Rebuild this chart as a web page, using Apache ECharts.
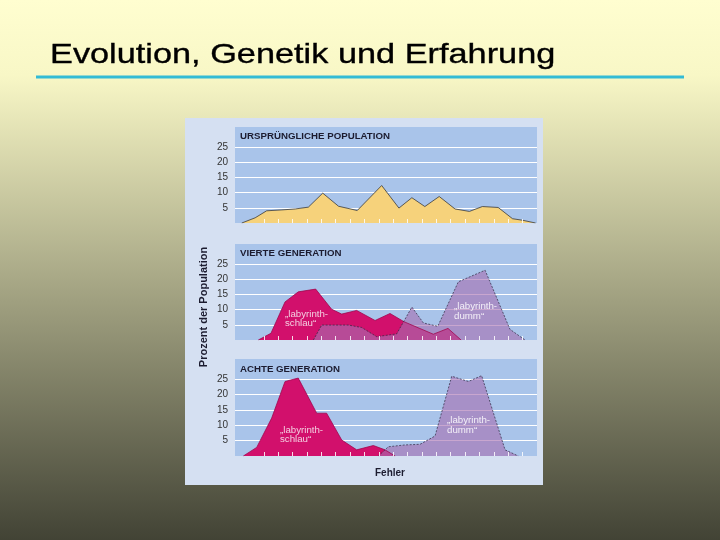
<!DOCTYPE html>
<html><head><meta charset="utf-8">
<script src="https://cdn.jsdelivr.net/npm/echarts@6/dist/echarts.min.js"></script>
<style>html,body{margin:0;padding:0;background:#fff;}#c{width:720px;height:540px;}</style>
</head><body><div id="c"></div>
<script>
const titleText = 'Evolution, Genetik und Erfahrung';
const panelTitles = ['URSPRÜNGLICHE POPULATION', 'VIERTE GENERATION', 'ACHTE GENERATION'];
const yAxisName = 'Prozent der Population';
const xAxisName = 'Fehler';
const yTickLabels = [5, 10, 15, 20, 25];
const xTickValues = [2, 3, 4, 5, 6, 7, 8, 9, 10, 11, 12, 13, 14, 15, 16, 17, 18, 19, 20];
const labelSchlau = '\u201Elabyrinth-\nschlau\u201C';
const labelDumm = '\u201Elabyrinth-\ndumm\u201C';

// [Fehler position, Prozent]
const origPop = [[0.47,0],[1.4,1.7],[2.2,4.0],[3.26,4.3],[4.19,4.6],[5.1,5.2],[6.1,9.8],[7.2,5.5],[8.5,4.1],[10.2,12.3],[11.4,4.9],[12.3,8.3],[13.2,5.4],[14.2,8.7],[15.3,4.6],[16.3,3.8],[17.2,5.4],[18.3,5.1],[19.3,1.4],[20.0,0.9],[20.9,0]];
const gen4Schlau = [[1.62,0],[2.5,2.2],[3.48,12.5],[4.4,15.8],[5.61,16.7],[6.72,10.1],[7.42,8.5],[8.46,9.7],[9.74,6.4],[10.78,8.7],[11.75,6.0],[13.79,1.9],[14.81,3.8],[15.72,0]];
const gen4Dumm = [[5.45,0],[6.03,4.9],[7.88,4.9],[8.81,4.1],[9.85,1.1],[11.24,2.0],[12.3,10.8],[13.1,5.6],[14.1,4.5],[15.53,19.1],[17.39,22.9],[19.12,3.5],[20.17,0]];
const gen8Schlau = [[0.58,0],[1.51,2.8],[2.55,12.3],[3.48,24.2],[4.4,25.3],[5.68,13.9],[6.37,13.9],[7.42,5.2],[8.46,2.0],[9.62,3.4],[10.43,2.0],[11.13,0]];
const gen8Dumm = [[9.97,0],[10.66,3.0],[11.82,3.6],[12.87,3.8],[13.91,6.5],[15.07,25.9],[16.23,24.2],[17.15,26.1],[18.78,2.0],[19.7,0]];

const FONT = "'Liberation Sans', Arial, sans-serif";
const COL_BAND = '#a9c4ea';
const COL_PANEL = '#d5e0f2';
const COL_YELLOW = '#f6d27b';
const COL_MAGENTA = '#d2106c';
const COL_LAV = 'rgb(166,112,178)';

const gridTops = [127, 244, 359];
const gridHeights = [96, 96, 97];

const grids = gridTops.map((t, i) => ({
  left: 235, width: 302, top: t, height: gridHeights[i],
  show: true, backgroundColor: COL_BAND, borderWidth: 0
}));
const xAxes = gridTops.map((t, i) => ({
  type: 'value', gridIndex: i, min: 0, max: 21, z: 10,
  axisLine: { show: false }, axisLabel: { show: false }, splitLine: { show: false },
  axisTick: { show: true, inside: true, length: 4, customValues: xTickValues,
    lineStyle: { color: 'rgba(255,255,255,0.85)', width: 1 } }
}));
const yAxes = gridTops.map((t, i) => ({
  type: 'value', gridIndex: i, min: 0, max: 31.5,
  axisLine: { show: false },
  axisTick: { show: false, customValues: yTickLabels },
  axisLabel: { customValues: yTickLabels, fontSize: 10, color: '#333', margin: 7, fontFamily: FONT },
  splitLine: { show: true, lineStyle: { color: '#ffffff', width: 1 } }
}));

function area(idx, data, color, opacity, line) {
  return {
    type: 'line', xAxisIndex: idx, yAxisIndex: idx, data: data,
    symbol: 'none', smooth: false, animation: false,
    lineStyle: line,
    areaStyle: { color: color, opacity: opacity }
  };
}
const series = [
  area(0, origPop, COL_YELLOW, 1, { color: '#3a3a3a', width: 0.8 }),
  area(1, gen4Schlau, COL_MAGENTA, 1, { color: '#a0084e', width: 0.8 }),
  area(1, gen4Dumm, COL_LAV, 0.62, { color: '#2e2840', width: 0.7, type: [2, 1.5] }),
  area(2, gen8Schlau, COL_MAGENTA, 1, { color: '#a0084e', width: 0.8 }),
  area(2, gen8Dumm, COL_LAV, 0.62, { color: '#2e2840', width: 0.7, type: [2, 1.5] })
];

function txt(x, y, s, size, weight, fill, align) {
  return { type: 'text', x: x, y: y, z: 100,
    style: { text: s, fill: fill, font: weight + ' ' + size + 'px ' + FONT,
      textAlign: align || 'left', align: align || 'left',
      textVerticalAlign: 'middle', verticalAlign: 'middle' } };
}
function ml(x, y, s, fill) {
  return { type: 'text', x: x, y: y, z: 100,
    style: { text: s, fill: fill, font: '9.7px ' + FONT, lineHeight: 9.5,
      textVerticalAlign: 'top', verticalAlign: 'top' } };
}

const graphic = [
  { type: 'rect', z: -100, shape: { x: 0, y: 0, width: 720, height: 540 },
    style: { fill: { type: 'linear', x: 0, y: 0, x2: 0, y2: 1, colorStops: [
      { offset: 0, color: '#fffed0' }, { offset: 0.14, color: '#f8f7c6' }, { offset: 1, color: '#424335' } ] } } },
  { type: 'rect', z: -90, shape: { x: 185, y: 118, width: 358, height: 367 }, style: { fill: COL_PANEL } },
  { type: 'text', x: 50, y: 55, scaleX: 1.225, z: 100,
    style: { text: titleText, fill: '#000', stroke: '#000', lineWidth: 0.35, font: '28px ' + FONT,
      textVerticalAlign: 'middle', verticalAlign: 'middle' } },
  { type: 'line', z: 100, shape: { x1: 36, y1: 77, x2: 684, y2: 77 }, style: { stroke: '#33bbd5', lineWidth: 3 } },
  txt(240, 136.5, panelTitles[0], 9.7, 'bold', '#1c1c30'),
  txt(240, 253.5, panelTitles[1], 9.7, 'bold', '#1c1c30'),
  txt(240, 369.5, panelTitles[2], 9.7, 'bold', '#1c1c30'),
  txt(390, 473.5, xAxisName, 10, 'bold', '#1c1c30', 'center'),
  { type: 'text', x: 204, y: 307, rotation: Math.PI / 2, z: 100,
    style: { text: yAxisName, fill: '#1c1c30', font: 'bold 11px ' + FONT, textAlign: 'center', align: 'center', textVerticalAlign: 'middle', verticalAlign: 'middle' } },
  ml(285, 309.5, labelSchlau, '#f3cfe0'),
  ml(280, 425.5, labelSchlau, '#f3cfe0'),
  ml(454, 302, labelDumm, '#f4f0f8'),
  ml(447, 416, labelDumm, '#f4f0f8')
];

const chart = echarts.init(document.getElementById('c'), null, { renderer: 'canvas' });
chart.setOption({
  animation: false,
  backgroundColor: 'transparent',
  grid: grids, xAxis: xAxes, yAxis: yAxes, series: series, graphic: graphic
});
</script></body></html>
